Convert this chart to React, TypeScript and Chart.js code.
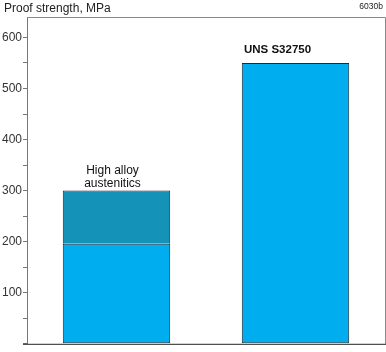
import React, { useEffect, useRef } from "react";
import { Chart, registerables } from "chart.js";

Chart.register(...registerables);

const categories = ["High alloy austenitics", "UNS S32750"];
const baseValues = [196, 550];
const rangeValues = [104, null];
const yTickLabels = ["100", "200", "300", "400", "500", "600"];
const barLabels = [["High alloy", "austenitics"], ["UNS S32750"]];
const yTitle = "Proof strength, MPa";
const figureId = "6030b";

const FONT = "'Liberation Sans', Arial, Helvetica, sans-serif";

export default function App() {
  const ref = useRef<HTMLCanvasElement | null>(null);

  useEffect(() => {
    document.body.style.margin = "0";
    const canvas = ref.current;
    if (!canvas) return;

    const decor = {
      id: "decor",
      afterDraw(chart: any) {
        const { ctx, chartArea } = chart;
        const { left, top, right, bottom } = chartArea;
        ctx.save();
        ctx.strokeStyle = "#8a8a8a";
        ctx.lineWidth = 1;
        ctx.beginPath();
        ctx.moveTo(left, top + 0.5);
        ctx.lineTo(right + 0.5, top + 0.5);
        ctx.lineTo(right + 0.5, bottom);
        ctx.stroke();
        ctx.strokeStyle = "#222";
        ctx.beginPath();
        ctx.moveTo(left - 4, bottom + 0.5);
        ctx.lineTo(right + 1, bottom + 0.5);
        ctx.stroke();
        ctx.fillStyle = "#222";
        ctx.textBaseline = "alphabetic";
        ctx.textAlign = "left";
        ctx.font = `12px ${FONT}`;
        ctx.fillText(yTitle, 4, 12);
        ctx.textAlign = "right";
        ctx.font = `8.5px ${FONT}`;
        ctx.fillText(figureId, 383, 9);

        const xs = chart.scales.x;
        const ys = chart.scales.y;
        const offsets = [
          { dx: -4, dy: -4, font: `12px ${FONT}`, lh: 12.5 },
          { dx: -18, dy: -10, font: `bold 11.5px ${FONT}`, lh: 13 },
        ];
        ctx.textAlign = "center";
        barLabels.forEach((lines, i) => {
          const total = (baseValues[i] || 0) + (rangeValues[i] || 0);
          const x = xs.getPixelForValue(i) + offsets[i].dx;
          const yTop = ys.getPixelForValue(total) + offsets[i].dy;
          ctx.font = offsets[i].font;
          ctx.fillStyle = "#111";
          for (let k = 0; k < lines.length; k++) {
            const y = yTop - (lines.length - 1 - k) * offsets[i].lh;
            ctx.fillText(lines[k], x, y);
          }
        });
        ctx.restore();
      },
    };

    const chart = new Chart(canvas, {
      type: "bar",
      data: {
        labels: categories,
        datasets: [
          {
            data: baseValues,
            backgroundColor: "#00aeef",
            borderColor: "#1b2b38",
            borderWidth: 1,
            borderSkipped: false,
            barPercentage: 0.6,
            categoryPercentage: 1,
          },
          {
            data: rangeValues as any,
            backgroundColor: "#1592b8",
            borderColor: "#1b2b38",
            borderWidth: 1,
            borderSkipped: "bottom",
            barPercentage: 0.6,
            categoryPercentage: 1,
          },
        ],
      },
      options: {
        animation: false,
        responsive: false,
        maintainAspectRatio: false,
        events: [],
        layout: { padding: { top: 17, right: 1, bottom: 7, left: 0 } },
        plugins: { legend: { display: false }, tooltip: { enabled: false }, title: { display: false } },
        scales: {
          x: {
            stacked: true,
            display: false,
          },
          y: {
            stacked: true,
            min: 0,
            max: 640,
            afterFit(scale: any) {
              scale.width = 27;
            },
            afterBuildTicks(scale: any) {
              scale.ticks = scale.ticks.filter((t: any) => t.value % 50 === 0);
            },
            ticks: {
              stepSize: 50,
              autoSkip: false,
              padding: 1,
              color: "#333",
              font: { family: FONT, size: 12 },
              callback(v: any) {
                const s = String(v);
                return yTickLabels.includes(s) ? s : "";
              },
            },
            grid: {
              drawOnChartArea: false,
              drawTicks: true,
              tickLength: 4,
              tickColor: "#777",
            },
            border: { display: true, color: "#777" },
          },
        },
      },
      plugins: [decor],
    });
    return () => chart.destroy();
  }, []);

  return <canvas ref={ref} width={386} height={352} style={{ display: "block" }} />;
}
